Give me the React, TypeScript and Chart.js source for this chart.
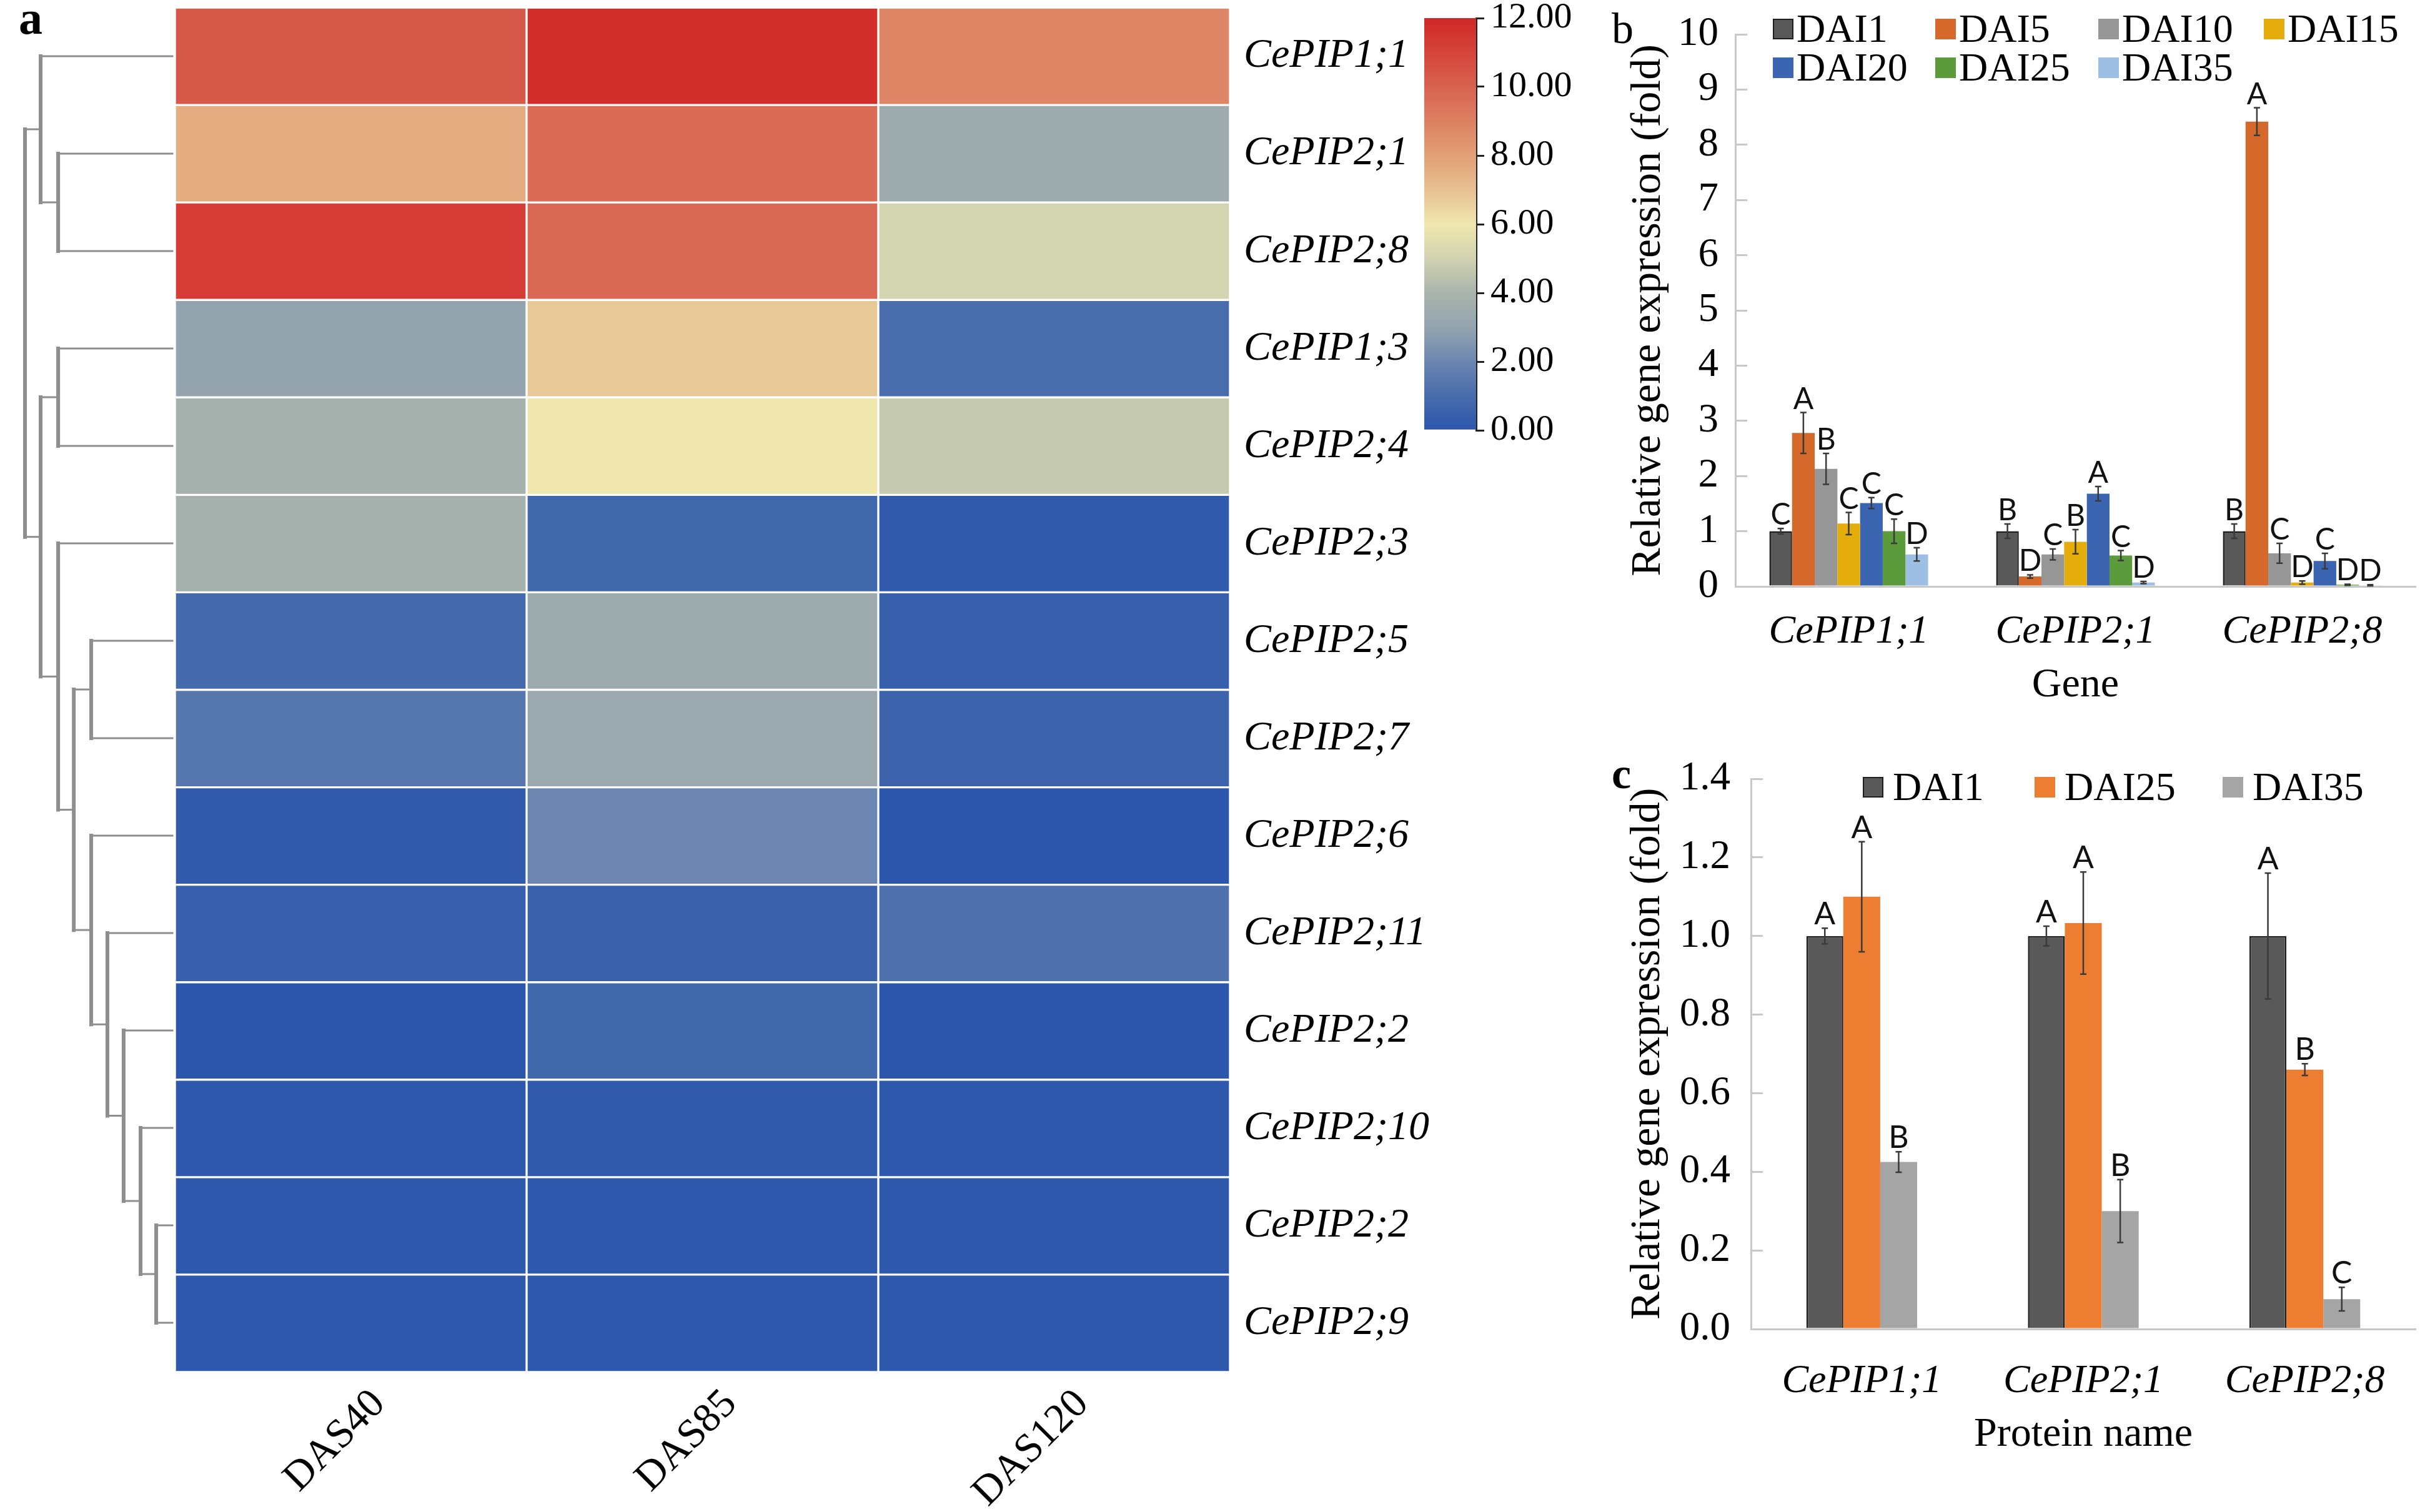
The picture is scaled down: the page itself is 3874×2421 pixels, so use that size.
import React, { useEffect, useRef } from 'react';
import { Chart, registerables } from 'chart.js';

Chart.register(...registerables);

// ---------------- DATA ----------------
// Panel a: heatmap rows (top to bottom) and columns
const rowGenes = ['CePIP1;1', 'CePIP2;1', 'CePIP2;8', 'CePIP1;3', 'CePIP2;4', 'CePIP2;3', 'CePIP2;5', 'CePIP2;7', 'CePIP2;6', 'CePIP2;11', 'CePIP2;2', 'CePIP2;10', 'CePIP2;2', 'CePIP2;9'];
const heatColumns = ['DAS40', 'DAS85', 'DAS120'];
const das40 = [10.3, 7.6, 11.3, 3.0, 3.8, 3.8, 0.9, 1.4, 0.2, 0.4, 0.0, 0.1, 0.1, 0.1];
const das85 = [11.8, 9.7, 9.8, 6.8, 6.0, 0.8, 3.4, 3.3, 2.0, 0.5, 0.8, 0.2, 0.1, 0.1];
const das120 = [8.8, 3.4, 5.1, 1.0, 4.7, 0.2, 0.4, 0.6, 0.0, 1.2, 0.0, 0.1, 0.1, 0.1];
const cellSpan = [1, 1, 1, 1, 1, 1, 1, 1, 1, 1, 1, 1, 1, 1];
const colorbarTicks = [0, 2, 4, 6, 8, 10, 12];

// Dendrogram merges (L = leaf row index, M = merge index) and merge heights
const mergeLeft = ['L1', 'L0', 'L3', 'L6', 'L12', 'L11', 'L10', 'L9', 'L8', 'M3', 'L5', 'M2', 'M1'];
const mergeRight = ['L2', 'M0', 'L4', 'L7', 'L13', 'M4', 'M5', 'M6', 'M7', 'M8', 'M9', 'M10', 'M11'];
const mergeHeight = [7.75, 8.94, 7.75, 5.51, 1.1, 2.16, 3.31, 4.41, 5.51, 6.69, 7.75, 8.94, 10];

// Panel b
const genesB = ['CePIP1;1', 'CePIP2;1', 'CePIP2;8'];
const seriesB = ['DAI1', 'DAI5', 'DAI10', 'DAI15', 'DAI20', 'DAI25', 'DAI35'];
const dai1B = [1.0, 1.0, 1.0];
const dai5B = [2.78, 0.18, 8.42];
const dai10B = [2.13, 0.58, 0.6];
const dai15B = [1.14, 0.81, 0.07];
const dai20B = [1.51, 1.68, 0.46];
const dai25B = [1.0, 0.56, 0.03];
const dai35B = [0.58, 0.07, 0.02];
const err1B = [0.05, 0.13, 0.13];
const err5B = [0.37, 0.03, 0.25];
const err10B = [0.28, 0.1, 0.18];
const err15B = [0.2, 0.22, 0.03];
const err20B = [0.1, 0.13, 0.14];
const err25B = [0.22, 0.09, 0.01];
const err35B = [0.12, 0.02, 0.01];
const let1B = ['C', 'B', 'B'];
const let5B = ['A', 'D', 'A'];
const let10B = ['B', 'C', 'C'];
const let15B = ['C', 'B', 'D'];
const let20B = ['C', 'A', 'C'];
const let25B = ['C', 'C', 'D'];
const let35B = ['D', 'D', 'D'];

// Panel c
const proteinsC = ['CePIP1;1', 'CePIP2;1', 'CePIP2;8'];
const seriesC = ['DAI1', 'DAI25', 'DAI35'];
const dai1C = [1.0, 1.0, 1.0];
const dai25C = [1.1, 1.033, 0.66];
const dai35C = [0.425, 0.3, 0.076];
const err1C = [0.02, 0.025, 0.16];
const err25C = [0.14, 0.13, 0.015];
const err35C = [0.026, 0.08, 0.03];
const let1C = ['A', 'A', 'A'];
const let25C = ['A', 'A', 'B'];
const let35C = ['B', 'B', 'C'];

// ---------------- STYLE ----------------
const SERIF = '"Liberation Serif", "Times New Roman", serif';
const SANS = 'Lato, "Open Sans", sans-serif';

const cmapStops = [0, 1, 2, 3, 4, 5, 6, 7, 8, 9, 10, 11, 12];
const cmapColors: number[][] = [
  [43, 86, 172], [72, 108, 172], [108, 134, 176], [148, 164, 175], [170, 180, 172],
  [208, 210, 176], [240, 231, 174], [231, 192, 145], [226, 160, 118], [221, 128, 98],
  [216, 98, 80], [213, 68, 58], [208, 40, 40],
];
function heatColor(v: number): string {
  const t = Math.max(0, Math.min(12, v));
  let i = 0;
  while (i < cmapStops.length - 2 && t > cmapStops[i + 1]) i++;
  const f = (t - cmapStops[i]) / (cmapStops[i + 1] - cmapStops[i]);
  const a = cmapColors[i], b = cmapColors[i + 1];
  const c = a.map((x, k) => Math.round(x + (b[k] - x) * f));
  return `rgb(${c[0]},${c[1]},${c[2]})`;
}

const colorsB = ['#595959', '#d5692b', '#969696', '#e5ad0c', '#3b64b1', '#5b9b3c', '#9cbfe3'];
const colorsC = ['#595959', '#ed7d31', '#a5a5a5'];

// fix an axis' thickness and drop the extra label padding it asks of the layout
function fixV(width: number) {
  return (s: any) => { s.width = width; s.paddingTop = 0; s.paddingBottom = 0; };
}
function fixH(height: number) {
  return (s: any) => { s.height = height; s.paddingLeft = 0; s.paddingRight = 0; };
}

// ---------------- PLUGINS ----------------
const errorBarPlugin = {
  id: 'errorBars',
  afterDatasetsDraw(chart: any, _args: any, opts: any) {
    const ctx = chart.ctx;
    const y = chart.scales.y;
    chart.data.datasets.forEach((ds: any, di: number) => {
      const meta = chart.getDatasetMeta(di);
      meta.data.forEach((bar: any, i: number) => {
        const v = ds.data[i];
        const e = ds.errors[i];
        const top = y.getPixelForValue(v + e);
        const bot = y.getPixelForValue(Math.max(v - e, 0));
        ctx.save();
        ctx.strokeStyle = '#3a3a3a';
        ctx.lineWidth = 2.5;
        ctx.beginPath();
        ctx.moveTo(bar.x, top);
        ctx.lineTo(bar.x, bot);
        ctx.moveTo(bar.x - 5, top);
        ctx.lineTo(bar.x + 5, top);
        ctx.moveTo(bar.x - 5, bot);
        ctx.lineTo(bar.x + 5, bot);
        ctx.stroke();
        ctx.fillStyle = '#111';
        ctx.font = `${opts.size || 48}px ${SANS}`;
        ctx.textAlign = 'center';
        ctx.textBaseline = 'alphabetic';
        ctx.fillText(ds.letters[i], bar.x, top - 6);
        ctx.restore();
      });
    });
  },
};

// ---------------- CONFIGS ----------------
function dendroConfig(): any {
  const pos = (ref: string): { x: number; y: number } => {
    const idx = parseInt(ref.slice(1), 10);
    if (ref[0] === 'L') return { x: 0, y: idx };
    const a = pos(mergeLeft[idx]);
    const b = pos(mergeRight[idx]);
    return { x: mergeHeight[idx], y: (a.y + b.y) / 2 };
  };
  const datasets: any[] = [];
  mergeHeight.forEach((h, k) => {
    const a = pos(mergeLeft[k]);
    const b = pos(mergeRight[k]);
    datasets.push({ data: [{ x: h, y: a.y }, { x: h, y: b.y }], borderWidth: 6 });
    datasets.push({ data: [{ x: a.x, y: a.y }, { x: h, y: a.y }], borderWidth: 3 });
    datasets.push({ data: [{ x: b.x, y: b.y }, { x: h, y: b.y }], borderWidth: 3 });
  });
  datasets.forEach((d) => {
    d.showLine = true;
    d.borderColor = '#8e8e8e';
    d.pointRadius = 0;
    d.clip = false;
    d.borderCapStyle = 'square';
  });
  return {
    type: 'scatter',
    data: { datasets },
    options: {
      animation: false, responsive: false, devicePixelRatio: 1, events: [],
      layout: { padding: { left: 40, right: 14, top: 12, bottom: 225 } },
      plugins: { legend: { display: false }, tooltip: { enabled: false } },
      scales: {
        x: { type: 'linear', display: false, reverse: true, min: 0, max: 10 },
        y: { type: 'linear', display: false, reverse: true, min: -0.5, max: 13.5 },
      },
    },
  };
}

function heatmapConfig(): any {
  const cols = [das40, das85, das120];
  return {
    type: 'bar',
    data: {
      labels: rowGenes,
      datasets: cols.map((vals, j) => ({
        label: heatColumns[j],
        data: cellSpan,
        backgroundColor: vals.map(heatColor),
        borderColor: '#ffffff',
        borderWidth: 2,
        borderSkipped: false,
        barPercentage: 1,
        categoryPercentage: 1,
      })),
    },
    options: {
      indexAxis: 'y',
      animation: false, responsive: false, devicePixelRatio: 1, events: [],
      layout: { padding: { left: 10, right: 1, top: 12, bottom: 0 } },
      plugins: { legend: { display: false }, tooltip: { enabled: false } },
      scales: {
        x: {
          type: 'linear', stacked: true, min: 0, max: 3, position: 'bottom',
          grid: { display: false, drawTicks: false }, border: { display: false },
          afterBuildTicks: (s: any) => { s.ticks = heatColumns.map((_, i) => ({ value: i + 0.5 })); },
          afterFit: fixH(224),
          ticks: {
            autoSkip: false, minRotation: 45, maxRotation: 45, padding: 13, labelOffset: 45,
            color: '#000', font: { family: SERIF, size: 66 },
            callback: (_v: any, i: number) => heatColumns[i],
          },
        },
        y: {
          type: 'category', stacked: true, position: 'right', offset: true,
          grid: { display: false, drawTicks: false }, border: { display: false },
          afterFit: fixV(400),
          ticks: { padding: 22, color: '#000', font: { family: SERIF, size: 66, style: 'italic' } },
        },
      },
    },
  };
}

function colorbarConfig(): any {
  return {
    type: 'bar',
    data: {
      labels: ['scale'],
      datasets: [{
        data: [[colorbarTicks[0], colorbarTicks[colorbarTicks.length - 1]]],
        barPercentage: 1, categoryPercentage: 1, borderWidth: 0,
        backgroundColor: (ctx: any) => {
          const chart = ctx.chart;
          const ys = chart.scales.y;
          if (!chart.chartArea || !ys) return '#888';
          const g = chart.ctx.createLinearGradient(0, ys.getPixelForValue(0), 0, ys.getPixelForValue(12));
          cmapStops.forEach((v) => g.addColorStop(v / 12, heatColor(v)));
          return g;
        },
      }],
    },
    options: {
      animation: false, responsive: false, devicePixelRatio: 1, events: [],
      layout: { padding: { left: 20, right: 0, top: 29, bottom: 51 } },
      plugins: { legend: { display: false }, tooltip: { enabled: false } },
      scales: {
        x: { display: false },
        y: {
          position: 'right', min: 0, max: 12,
          afterBuildTicks: (s: any) => { s.ticks = colorbarTicks.map((v) => ({ value: v })); },
          afterFit: fixV(157),
          grid: { drawOnChartArea: false, drawTicks: true, tickLength: 13, color: '#222', lineWidth: 3 },
          border: { display: true, color: '#222', width: 3 },
          ticks: { padding: 10, color: '#000', font: { family: SERIF, size: 58 }, callback: (v: any) => Number(v).toFixed(2) },
        },
      },
    },
  };
}

function barConfig(labels: string[], names: string[], values: number[][], errs: number[][], lets: string[][], colors: string[],
  yMax: number, yStep: number, yDigits: number, xTitle: string, catPct: number, pad: any, yWidth: number, xHeight: number,
  xPad: number, yTitlePad: number, letterSize: number, labelGap: number): any {
  return {
    type: 'bar',
    data: {
      labels,
      datasets: names.map((n, i) => ({
        label: n,
        data: values[i],
        errors: errs[i],
        letters: lets[i],
        backgroundColor: colors[i],
        borderColor: i === 0 ? '#1e1e1e' : colors[i],
        borderWidth: i === 0 ? 2.5 : 0,
        barPercentage: 1,
        categoryPercentage: catPct,
      })),
    },
    plugins: [errorBarPlugin],
    options: {
      animation: false, responsive: false, devicePixelRatio: 1, events: [],
      layout: { padding: pad },
      plugins: { legend: { display: false }, tooltip: { enabled: false }, errorBars: { size: letterSize } },
      scales: {
        x: {
          grid: { display: false, drawTicks: false },
          border: { display: true, color: '#c8c8c8', width: 3 },
          afterFit: fixH(xHeight),
          ticks: { padding: xPad, color: '#000', font: { family: SERIF, size: 64, style: 'italic' } },
          title: { display: true, text: xTitle, color: '#000', padding: 0, font: { family: SERIF, size: 66 } },
        },
        y: {
          min: 0, max: yMax,
          afterFit: fixV(yWidth),
          grid: { drawOnChartArea: false, drawTicks: true, tickLength: -19, color: '#c8c8c8', lineWidth: 3 },
          border: { display: true, color: '#c8c8c8', width: 3 },
          ticks: { stepSize: yStep, padding: labelGap + 19, color: '#000', font: { family: SERIF, size: 65 }, callback: (v: any) => Number(v).toFixed(yDigits) },
          title: { display: true, text: 'Relative gene expression (fold)', color: '#000', padding: { top: yTitlePad, bottom: 0 }, font: { family: SERIF, size: 68 } },
        },
      },
    },
  };
}

function panelBConfig(): any {
  return barConfig(genesB, seriesB,
    [dai1B, dai5B, dai10B, dai15B, dai20B, dai25B, dai35B],
    [err1B, err5B, err10B, err15B, err20B, err25B, err35B],
    [let1B, let5B, let10B, let15B, let20B, let25B, let35B],
    colorsB, 10, 1, 0, 'Gene', 0.7,
    { left: 0, right: 7, top: 55, bottom: 3 }, 218, 198, 35, 38, 48, 27);
}

function panelCConfig(): any {
  return barConfig(proteinsC, seriesC,
    [dai1C, dai25C, dai35C],
    [err1C, err25C, err35C],
    [let1C, let25C, let35C],
    colorsC, 1.4, 0.2, 1, 'Protein name', 0.5,
    { left: 0, right: 7, top: 97, bottom: 84 }, 243, 209, 46, 37, 50, 33);
}

// ---------------- COMPONENTS ----------------
function ChartCanvas(props: { left: number; top: number; width: number; height: number; make: () => any }) {
  const ref = useRef<HTMLCanvasElement>(null);
  useEffect(() => {
    const chart = new Chart(ref.current as HTMLCanvasElement, props.make());
    return () => chart.destroy();
  }, []);
  return (
    <canvas ref={ref} width={props.width} height={props.height}
      style={{ position: 'absolute', left: props.left, top: props.top, width: props.width, height: props.height }} />
  );
}

function LegendItem(props: { x: number; y: number; color: string; dark: boolean; label: string; gap: number }) {
  return (
    <>
      <div style={{
        position: 'absolute', left: props.x, top: props.y - 16, width: 33, height: 33, background: props.color,
        boxSizing: 'border-box', border: props.dark ? '2.5px solid #1e1e1e' : 'none',
      }} />
      <div style={{
        position: 'absolute', left: props.x + props.gap, top: props.y - 32, fontFamily: SERIF, fontSize: 64,
        lineHeight: '64px', whiteSpace: 'nowrap', color: '#000',
      }}>{props.label}</div>
    </>
  );
}

const legendBX = [2838, 3098, 3359, 3624, 2838, 3098, 3359];
const legendBY = [46, 46, 46, 46, 108, 108, 108];
const legendCX = [2982, 3257, 3558];
const legendCY = 1260;

export default function App() {
  return (
    <div style={{ position: 'fixed', left: 0, top: 0, width: 3874, height: 2421, background: '#fff', overflow: 'hidden' }}>
      <ChartCanvas left={0} top={0} width={290} height={2421} make={dendroConfig} />
      <ChartCanvas left={270} top={0} width={2100} height={2421} make={heatmapConfig} />
      <ChartCanvas left={2260} top={0} width={260} height={740} make={colorbarConfig} />
      <ChartCanvas left={2560} top={0} width={1314} height={1140} make={panelBConfig} />
      <ChartCanvas left={2560} top={1150} width={1314} height={1271} make={panelCConfig} />
      {seriesB.map((s, i) => (
        <LegendItem key={'b' + s} x={legendBX[i]} y={legendBY[i]} color={colorsB[i]} dark={i === 0} label={s} gap={38} />
      ))}
      {seriesC.map((s, i) => (
        <LegendItem key={'c' + s} x={legendCX[i]} y={legendCY} color={colorsC[i]} dark={i === 0} label={s} gap={48} />
      ))}
      <div style={{ position: 'absolute', left: 30, top: -10, fontFamily: SERIF, fontSize: 76, lineHeight: '76px', fontWeight: 'bold' }}>a</div>
      <div style={{ position: 'absolute', left: 2580, top: 11, fontFamily: SERIF, fontSize: 70, lineHeight: '70px' }}>b</div>
      <div style={{ position: 'absolute', left: 2580, top: 1204, fontFamily: SERIF, fontSize: 70, lineHeight: '70px', fontWeight: 'bold' }}>c</div>
    </div>
  );
}
